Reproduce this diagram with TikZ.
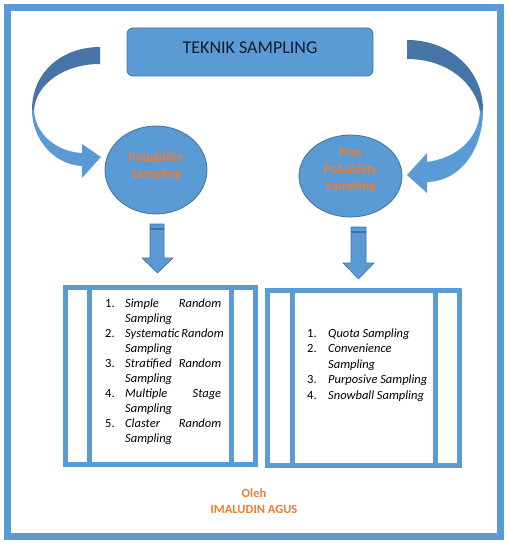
\documentclass[tikz,border=0pt]{standalone}
\usepackage{fontspec}
\setmainfont{Carlito}
\usetikzlibrary{shapes.geometric}
\definecolor{obl}{HTML}{5B9BD5}
\definecolor{odk}{HTML}{41719C}
\definecolor{arrdk}{RGB}{68,117,166}
\definecolor{oor}{HTML}{ED7D31}
\definecolor{ttext}{RGB}{18,28,48}
\begin{document}
\begin{tikzpicture}[x=1pt,y=-1pt,
  frame/.style={draw=obl,line width=7pt},
  listframe/.style={draw=obl,line width=5pt},
  shapefill/.style={fill=obl,draw=odk,line width=0.8pt},
  bandlight/.style={fill=obl},
  banddark/.style={fill=arrdk},
  circtext/.style={text=oor,font=\fontsize{13}{17}\selectfont\bfseries,align=center,inner sep=0pt},
  listtext/.style={font=\fontsize{12.5}{15}\selectfont,inner sep=0pt,anchor=base west}]
\useasboundingbox (0,0) rectangle (509,545);
% outer frame
\draw[frame] (7.5,7.5) rectangle (500.5,536.5);
% title
\node[shapefill,rounded corners=6pt,minimum width=246pt,minimum height=48pt,inner sep=0pt] (title) at (250,52) {};
\node[text=ttext,font=\fontsize{18}{20}\selectfont,inner sep=0pt] (titletext) at (250,47.5) {TEKNIK SAMPLING};
% circles
\node[shapefill,ellipse,minimum width=102pt,minimum height=88pt,inner sep=0pt] (prob) at (156,170) {};
\node[circtext] (probtext) at (156,166.5) {Pobability\\Sampling};
\node[shapefill,ellipse,minimum width=103pt,minimum height=82pt,inner sep=0pt] (nonprob) at (350.5,176) {};
\node[circtext] (nonprobtext) at (350.5,170.5) {Non\\Pobability\\Sampling};
% curved arrow left
\path[banddark] (100,47) .. controls (62,47) and (32,72) .. (32,110) -- (34,110) .. controls (36,84) and (64,64) .. (100,64) -- cycle;
\path[bandlight] (32,110) .. controls (32,140) and (55,165) .. (82,166) -- (82,178) -- (101,157) -- (82,144) -- (82,153) .. controls (58,152) and (35,135) .. (34,110) -- cycle;
% curved arrow right
\path[banddark] (407,40) .. controls (450,40) and (483,70) .. (483,110) -- (480,112) .. controls (476,84) and (448,59) .. (407,59) -- cycle;
\path[bandlight] (483,110) .. controls (483,148) and (462,181) .. (427,182) -- (427,193) -- (407,175) -- (427,153) -- (427,162) .. controls (456,158) and (478,140) .. (480,112) -- cycle;
% down arrows
\filldraw[shapefill,line width=0.6pt] (150,224) -- (164,224) -- (164,258) -- (173,258) -- (157.5,273) -- (142,258) -- (150,258) -- cycle;
\draw[odk,line width=1.2pt] (150,229) -- (164,229);
\filldraw[shapefill,line width=0.6pt] (351,227) -- (366,227) -- (366,263) -- (374,263) -- (358.5,279) -- (343,263) -- (351,263) -- cycle;
\draw[odk,line width=1.2pt] (351,232) -- (366,232);
% left list frame
\draw[listframe] (65,287.5) rectangle (255.5,464);
\draw[listframe] (89,287.5) -- (89,464);
\draw[listframe] (231,287.5) -- (231,464);
% right list frame
\draw[listframe] (267.5,290.5) rectangle (459,465.5);
\draw[listframe] (292.5,290.5) -- (292.5,465.5);
\draw[listframe] (435,290.5) -- (435,465.5);
% left list
\node[listtext] (problist) at (105,307) {\vtop{\baselineskip=15pt
 \hbox{\makebox[20pt][l]{1.}\makebox[96pt][s]{\itshape Simple Random}}
 \hbox{\hspace*{20pt}\itshape Sampling}
 \hbox{\makebox[20pt][l]{2.}\makebox[96pt][s]{\itshape Systematic Random}}
 \hbox{\hspace*{20pt}\itshape Sampling}
 \hbox{\makebox[20pt][l]{3.}\makebox[96pt][s]{\itshape Stratified Random}}
 \hbox{\hspace*{20pt}\itshape Sampling}
 \hbox{\makebox[20pt][l]{4.}\makebox[96pt][s]{\itshape Multiple Stage}}
 \hbox{\hspace*{20pt}\itshape Sampling}
 \hbox{\makebox[20pt][l]{5.}\makebox[96pt][s]{\itshape Claster Random}}
 \hbox{\hspace*{20pt}\itshape Sampling}}};
% right list
\node[listtext] (nonproblist) at (307,337) {\vtop{\baselineskip=15.5pt
 \hbox{\makebox[21pt][l]{1.}\itshape Quota Sampling}
 \hbox{\makebox[21pt][l]{2.}\itshape Convenience}
 \hbox{\hspace*{21pt}\itshape Sampling}
 \hbox{\makebox[21pt][l]{3.}\itshape Purposive Sampling}
 \hbox{\makebox[21pt][l]{4.}\itshape Snowball Sampling}}};
% author
\node[text=oor,font=\fontsize{12.5}{16}\selectfont\bfseries,align=center,inner sep=0pt] (author) at (254,501) {Oleh\\IMALUDIN AGUS};
\end{tikzpicture}
\end{document}
